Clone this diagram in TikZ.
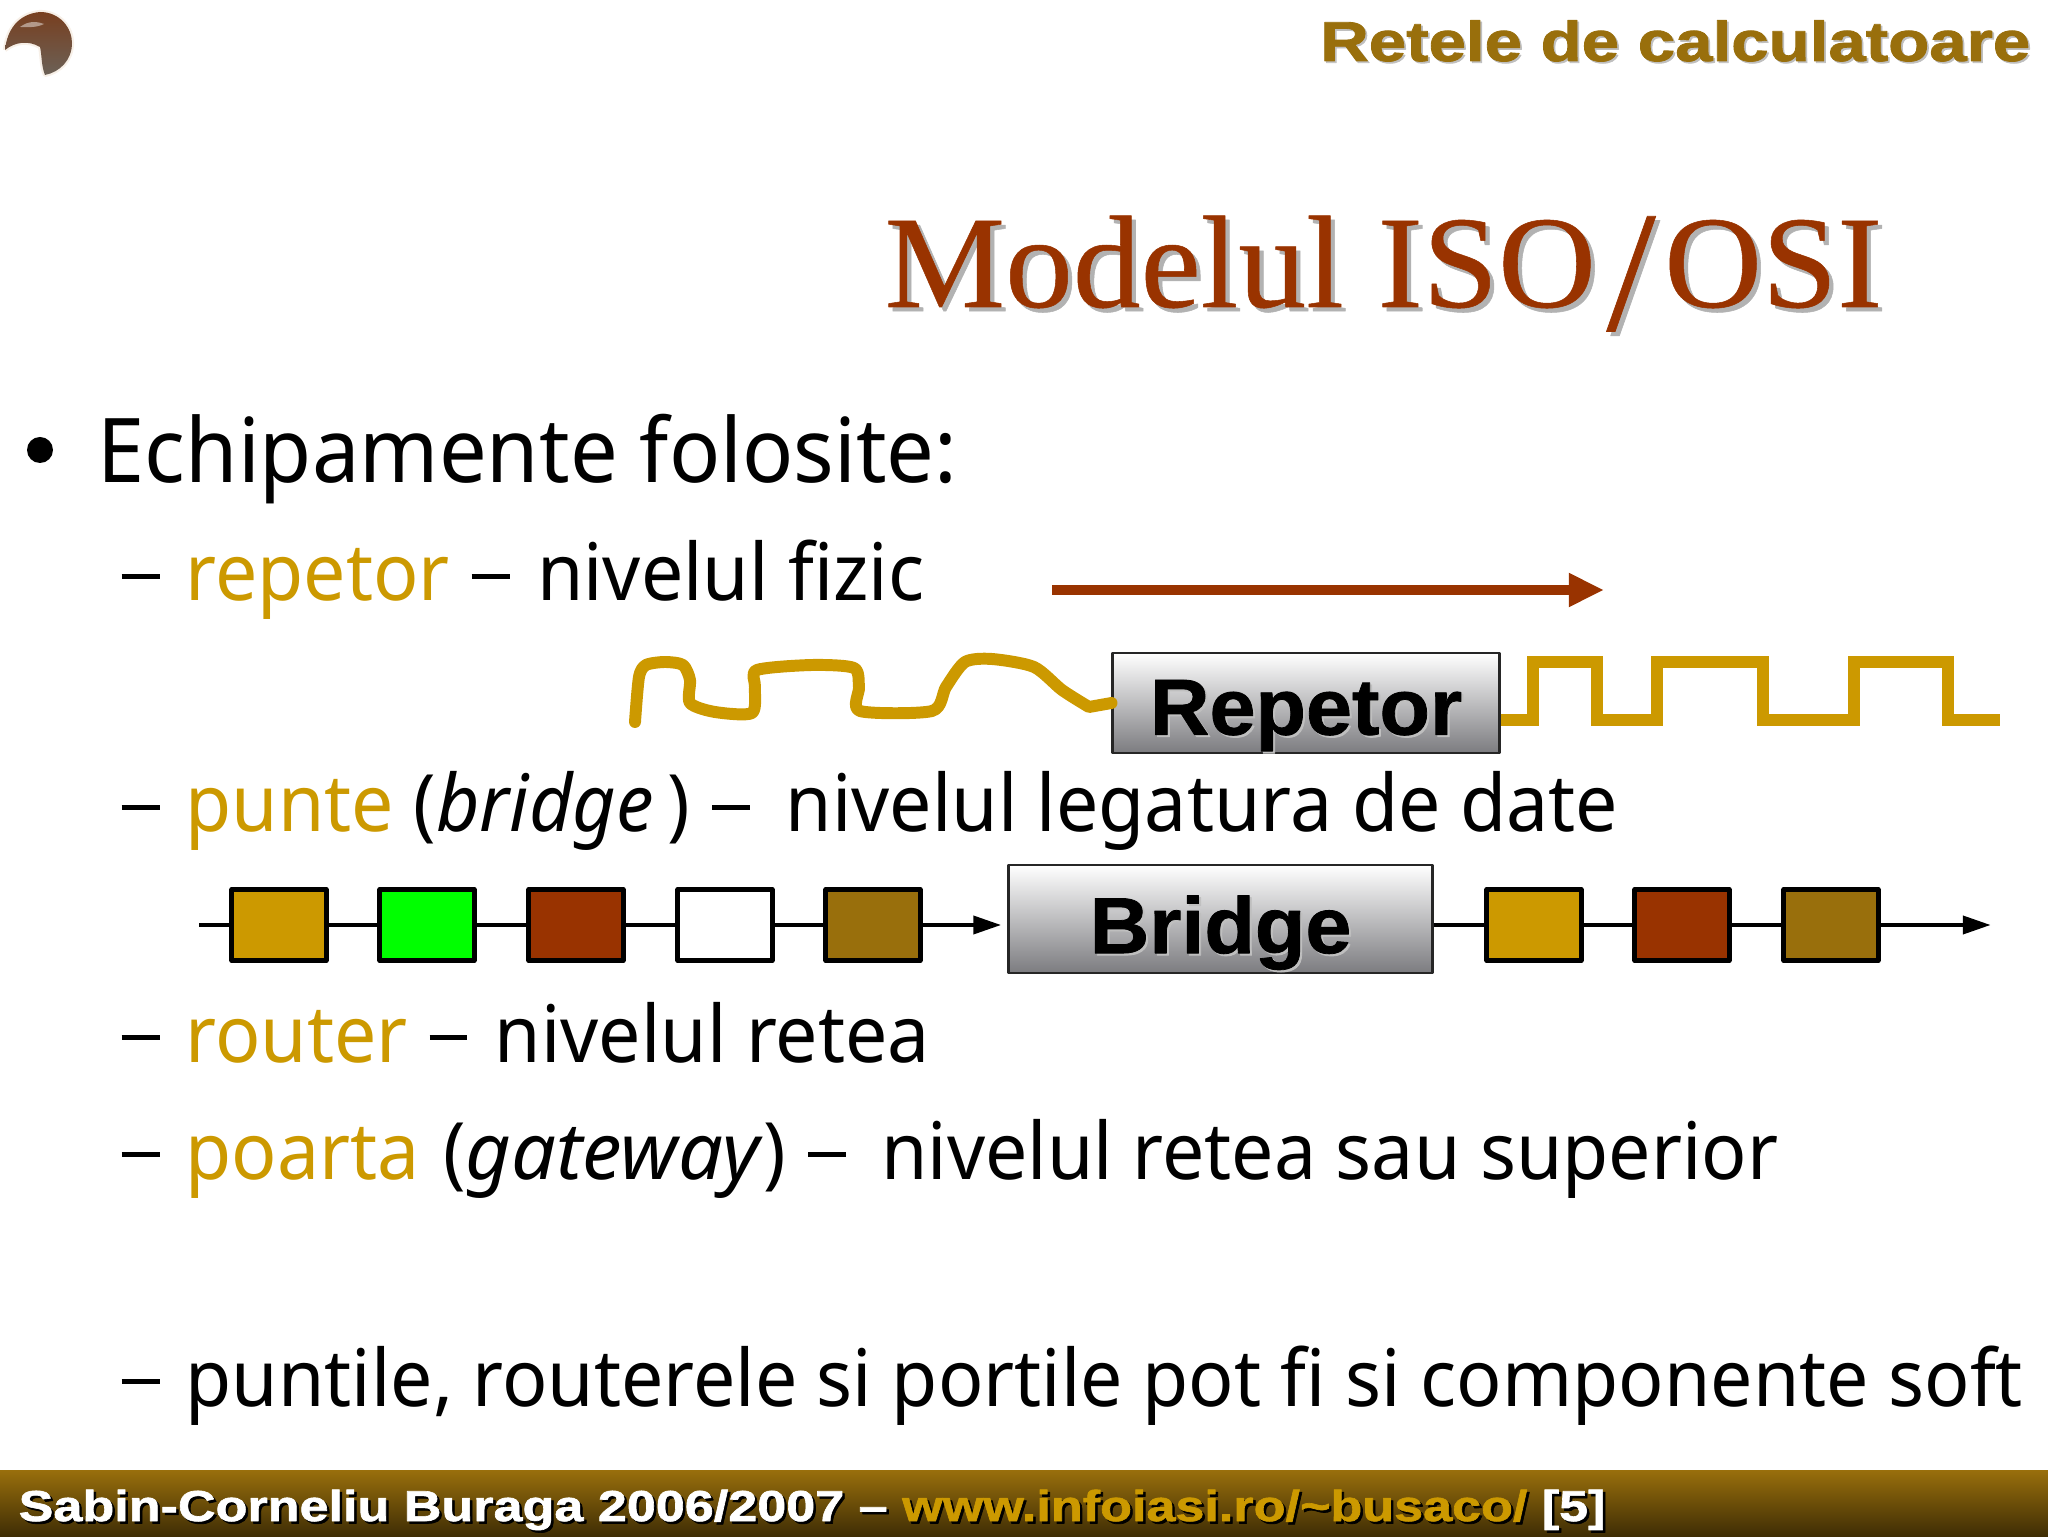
\documentclass[tikz,border=0pt]{standalone}
\usepackage{fontspec}
\usetikzlibrary{arrows.meta}
\setmainfont[FakeStretch=.95]{Noto Sans}
\newfontfamily\titlefont[FakeStretch=1.03,FakeBold=.4]{Liberation Serif}
\newfontfamily\headfont[FakeStretch=1.195,FakeBold=1.5]{Liberation Sans Bold}
\newfontfamily\footfont[FakeStretch=1.205,FakeBold=1.5]{Liberation Sans Bold}
\newfontfamily\boxfont[FakeStretch=1.04,FakeBold=1]{Liberation Sans Bold}
\definecolor{gold}{HTML}{CC9900}
\definecolor{rust}{HTML}{993300}
\definecolor{olive}{HTML}{996F0C}
\newcommand{\shad}[4]{\rlap{\kern#2\raisebox{-#2}{\color{#1}#3}}#4}
\newcommand{\dsh}{\kern.03em\rule[.28em]{.48em}{.06em}\kern.1em}
\newcommand{\fdsh}{\rule[.28em]{.48em}{.06em}\kern.08em}
\newcommand{\slsh}{\kern3pt\raisebox{-6.5pt}{\fontsize{49}{50}\selectfont /}\kern2.4pt}
\begin{document}
\begin{tikzpicture}[x=.01cm, y=-.01cm, line join=round, >={Stealth[inset=0pt,length=8pt,width=5pt]},
	body/.style={anchor=base west, inner sep=0pt, font=\fontsize{22.5}{26}\selectfont},
	pkt/.style={draw=black, line width=1.42pt, minimum width=.94cm, minimum height=.71cm, inner sep=0pt},
	dev/.style={draw=black!85, line width=.8pt, top color=white, bottom color=black!50!blue!3!gray, inner sep=0pt, font=\boxfont\fontsize{22.6}{26}\selectfont},
	link/.style={line width=1.4pt},
	wave/.style={draw=gold, line width=3.4pt}]
	\useasboundingbox (0,0) rectangle (2048,1537);
	% logo
	\draw[brown!40!white, line width=1.2pt, opacity=.3]
		(5,50) .. controls (7,30) and (18,14) .. (40,12) .. controls (60,12) and (72,28) .. (72,43)
		.. controls (72,60) and (60,72) .. (45,75) .. controls (41,65) and (42,55) .. (40,47) .. controls (28,40) and (15,42) .. (5,50);
	\shade[top color=black!45!brown!90!red, bottom color=black!60!brown!40!gray]
		(5,50) .. controls (7,30) and (18,14) .. (40,12) .. controls (60,12) and (72,28) .. (72,43)
		.. controls (72,60) and (60,72) .. (45,75) .. controls (41,65) and (42,55) .. (40,47) .. controls (28,40) and (15,42) .. (5,50);
	\fill[white, opacity=.45] (20,27) .. controls (28,21) and (36,21) .. (44,24) .. controls (36,28) and (28,27) .. (20,27);
	% header and footer
	\node[anchor=base east, inner sep=0pt, font=\headfont\fontsize{16}{18}\selectfont] (head) at (2031,61)
		{\shad{black!25}{.5pt}{Retele de calculatoare}{\color{olive}Retele de calculatoare}};
	\node[anchor=base west, inner sep=0pt, font=\titlefont\fontsize{37.4}{44}\selectfont] (title) at (884,307)
		{\shad{black!30}{1.2pt}{Modelul ISO\slsh OSI}{\color{rust}Modelul ISO\slsh OSI}};
	\shade[top color=olive, bottom color=olive!40!black] (0,1470) rectangle (2048,1537);
	\node[anchor=base west, inner sep=0pt, font=\footfont\fontsize{12.3}{14}\selectfont] (foot) at (18,1521)
		{\shad{black}{.7pt}{Sabin-Corneliu Buraga 2006/2007 – www.infoiasi.ro/\textasciitilde busaco/ [5]}{\color{white}Sabin-Corneliu Buraga 2006/2007 – \color{gold}www.infoiasi.ro/\textasciitilde busaco/ \color{white}[5]}};
	% text
	\fill (40,450) circle (13);
	\node[body, font=\fontsize{25.4}{30}\selectfont] (t0) at (97,483) {Echipamente folosite:};
	\node[body] (t1) at (121,601) {\fdsh{} \textcolor{gold}{repetor} \dsh{} nivelul fizic};
	\node[body] (t2) at (121,832) {\fdsh{} \textcolor{gold}{punte} (\textit{bridge}\kern.18em) \dsh{}\kern.1em{} nivelul legatura de date};
	\node[body] (t3) at (121,1062) {\fdsh{} \textcolor{gold}{router} \dsh{} nivelul retea};
	\node[body] (t4) at (121,1179) {\fdsh{} \textcolor{gold}{poarta}\kern.05em{} (\textit{\addfontfeatures{FakeStretch=1}gateway}) \dsh{}\kern.1em{} nivelul retea sau superior};
	\node[body] (t5) at (121,1406) {\fdsh{} puntile, routerele si portile pot fi si componente soft};
	% repeater
	\coordinate (dirA) at (1052,590);
	\coordinate (dirB) at (1604,590);
	\draw[->, rust, line width=3pt, >={Stealth[inset=0pt,length=10pt,width=9pt]}] (dirA)--(dirB);
	\node[dev, minimum width=3.86cm, minimum height=1cm] (rep) at (1306,703) {\raisebox{-9pt}[0pt][0pt]{\shad{black!25}{.6pt}{Repetor}{Repetor}}};
	\draw[wave, line cap=round] plot[smooth, tension=.45] coordinates {(635,722) (639,677) (646,665) (665,662) (683,665) (690,680) (690,703) (715,712) (752,713) (755,687) (757,670) (812,665) (854,668) (859,687) (860,711) (932,711) (946,687) (965,662) (992,659) (1034,667) (1062,690) (1089,707)} -- (rep.west);
	\draw[wave, line join=miter] (rep.east) ++(0,17) -- (1533,720) |- (1597,662) |- (1657,720) |- (1763,662) |- (1854,720) |- (1948,662) |- (2000,720);
	% bridge
	\node[dev, minimum width=4.23cm, minimum height=1.08cm] (brg) at (1220.5,919) {\raisebox{-9.7pt}[0pt][0pt]{\shad{black!25}{.6pt}{Bridge}{Bridge}}};
	\coordinate (start) at (199,925);
	\coordinate (stop) at (1991,925);
	\foreach \name/\xx/\col in {a1/279/gold, a2/427/green, a3/576/rust, a4/725/white, a5/873/olive, b1/1534/gold, b2/1682/rust, b3/1831/olive}
		{\node[pkt, fill=\col] (\name) at (\xx,925) {};}
	\draw[link] (start)--(a1) (a1)--(a2) (a2)--(a3) (a3)--(a4) (a4)--(a5);
	\draw[link, ->, shorten >=.06cm] (a5)--(brg.west |- a5);
	\draw[link] (brg.east |- b1)--(b1) (b1)--(b2) (b2)--(b3);
	\draw[link, ->] (b3)--(stop);
\end{tikzpicture}
\end{document}
